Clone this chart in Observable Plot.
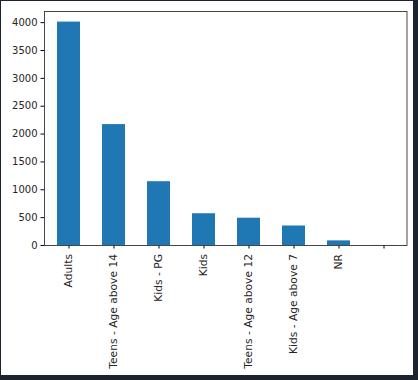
<!DOCTYPE html>
<html>
<head>
<meta charset="utf-8">
<script src="https://cdn.jsdelivr.net/npm/d3@7"></script>
<script src="https://cdn.jsdelivr.net/npm/@observablehq/plot@0.6"></script>
<style>
  html, body { margin: 0; padding: 0; background: #1b2330; width: 418px; height: 380px; overflow: hidden; }
  #card { position: absolute; left: 1px; top: 1px; width: 412px; height: 374px; background: #fff; }
  #card svg { display: block; }
</style>
</head>
<body>
<div id="card"></div>
<script>
const categories = ["Adults", "Teens - Age above 14", "Kids - PG", "Kids", "Teens - Age above 12", "Kids - Age above 7", "NR", ""];
const counts = [4010, 2170, 1145, 570, 490, 350, 83, 1];
const yTicks = [0, 500, 1000, 1500, 2000, 2500, 3000, 3500, 4000];

const data = categories.map((c, i) => ({category: c, count: counts[i]}));

const chart = Plot.plot({
  width: 412,
  height: 374,
  marginLeft: 43,
  marginTop: 10,
  marginRight: 6.5,
  marginBottom: 130,
  style: {fontFamily: "DejaVu Sans", fontSize: "10px", color: "#262626", background: "#fff"},
  x: {type: "band", domain: categories, paddingInner: 0.5, paddingOuter: 0.25, label: null},
  y: {domain: [0, 4200], label: null},
  marks: [
    Plot.barY(data, {x: "category", y: "count", fill: "#1f77b4"}),
    Plot.axisY({ticks: yTicks, tickSize: 3.5, tickPadding: 3.5, label: null, tickFormat: d => String(d), stroke: "#000"}),
    Plot.axisX({tickSize: 3.5, tickPadding: 5, tickRotate: -90, label: null, stroke: "#000", fontSize: 10.7}),
    Plot.frame({stroke: "#333", strokeWidth: 0.9})
  ]
});
document.getElementById("card").appendChild(chart);
</script>
</body>
</html>
